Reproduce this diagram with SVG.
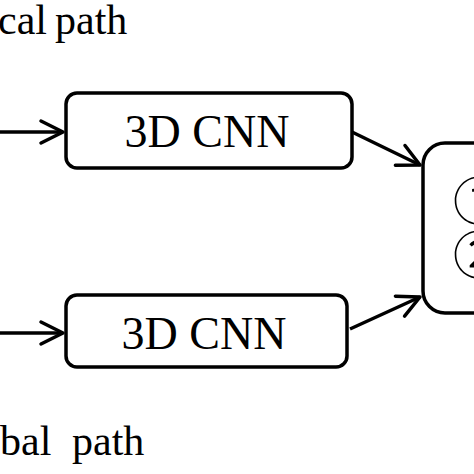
<svg xmlns="http://www.w3.org/2000/svg" width="474" height="474" viewBox="0 0 474 474">
<style>
.box{fill:#fff;stroke:#000;stroke-width:3.5}
.lbl{font-family:"Liberation Serif","Times New Roman",serif;font-size:46px;fill:#000}
.cap{font-family:"Liberation Serif","Times New Roman",serif;font-size:42px;fill:#000}
.num{font-family:"Noto Sans CJK SC","DejaVu Sans",sans-serif;font-size:51px;fill:#000}
.con{stroke:#000;stroke-width:3.5;fill:none;marker-end:url(#arr)}
</style>
<defs>
<marker id="arr" markerUnits="userSpaceOnUse" viewBox="-26 -14 30 28" markerWidth="30" markerHeight="28" refX="0" refY="0" orient="auto">
<path d="M-22,-11 L0,0 L-22,11" fill="none" stroke="#000" stroke-width="3.5" stroke-linecap="round" stroke-linejoin="round"/>
</marker>
</defs>
<rect width="474" height="474" fill="#fff"/>
<text class="cap" x="-2" y="34">cal<tspan x="55">path</tspan></text>
<text class="cap" x="0" y="455">bal<tspan x="72">path</tspan></text>
<g id="connectors">
<line class="con" x1="0" y1="132" x2="63" y2="132"/>
<line class="con" x1="0" y1="333" x2="63" y2="333"/>
<line class="con" x1="352" y1="132" x2="420" y2="165"/>
<line class="con" x1="350" y1="329" x2="420" y2="297"/>
</g>
<g id="cnn1">
<rect class="box" x="66" y="93" width="286" height="75" rx="11"/>
<text class="lbl" x="207" y="147" text-anchor="middle">3D CNN</text>
</g>
<g id="cnn2">
<rect class="box" x="66" y="295" width="281" height="72" rx="11"/>
<text class="lbl" x="204" y="349" text-anchor="middle">3D CNN</text>
</g>
<g id="fusion">
<rect class="box" x="423" y="143" width="90" height="170" rx="22"/>
<text class="num" x="453" y="220">①</text>
<text class="num" x="453" y="274">②</text>
</g>
</svg>
